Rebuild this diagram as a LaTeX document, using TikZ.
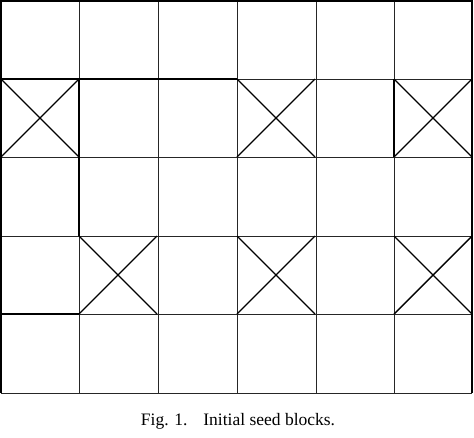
\documentclass[tikz,border=0pt]{standalone}
\usepackage{fontspec}
\setmainfont{Liberation Serif}
\begin{document}
\begin{tikzpicture}[x=1pt,y=-1pt,
  gridline/.style={line width=0.7pt,black!85},
  heavy/.style={line width=1.4pt,black},
  cross/.style={line width=1.4pt,black}]
\useasboundingbox (0,0) rectangle (474,437);
% grid lines
\foreach \x in {79,158,237,316,394} {\draw[gridline] (\x,1) -- (\x,393);}
\foreach \y in {79,157,236,314} {\draw[gridline] (1,\y) -- (472,\y);}
\draw[gridline] (1,393) -- (472,393);
% heavier outline pieces
\draw[heavy] (1,393) -- (1,1) -- (472,1) -- (472,393);
\draw[heavy] (1,79) -- (237,79);
\draw[heavy] (79,79) -- (79,236);
\draw[heavy] (1,314) -- (79,314);
\draw[heavy] (394,79) -- (394,157);
% crossed seed blocks
\foreach \cx/\cy in {1/79,237/79,394/79,79/236,237/236,394/236} {
  \draw[cross] (\cx,\cy) -- ++(78,78);
  \draw[cross] (\cx,\cy+78) -- ++(78,-78);
}
\node[font=\fontsize{17.5}{20}\selectfont,anchor=base] (cap) at (238,425) {Fig. 1.\hspace{0.9em}Initial seed blocks.};
\end{tikzpicture}
\end{document}
